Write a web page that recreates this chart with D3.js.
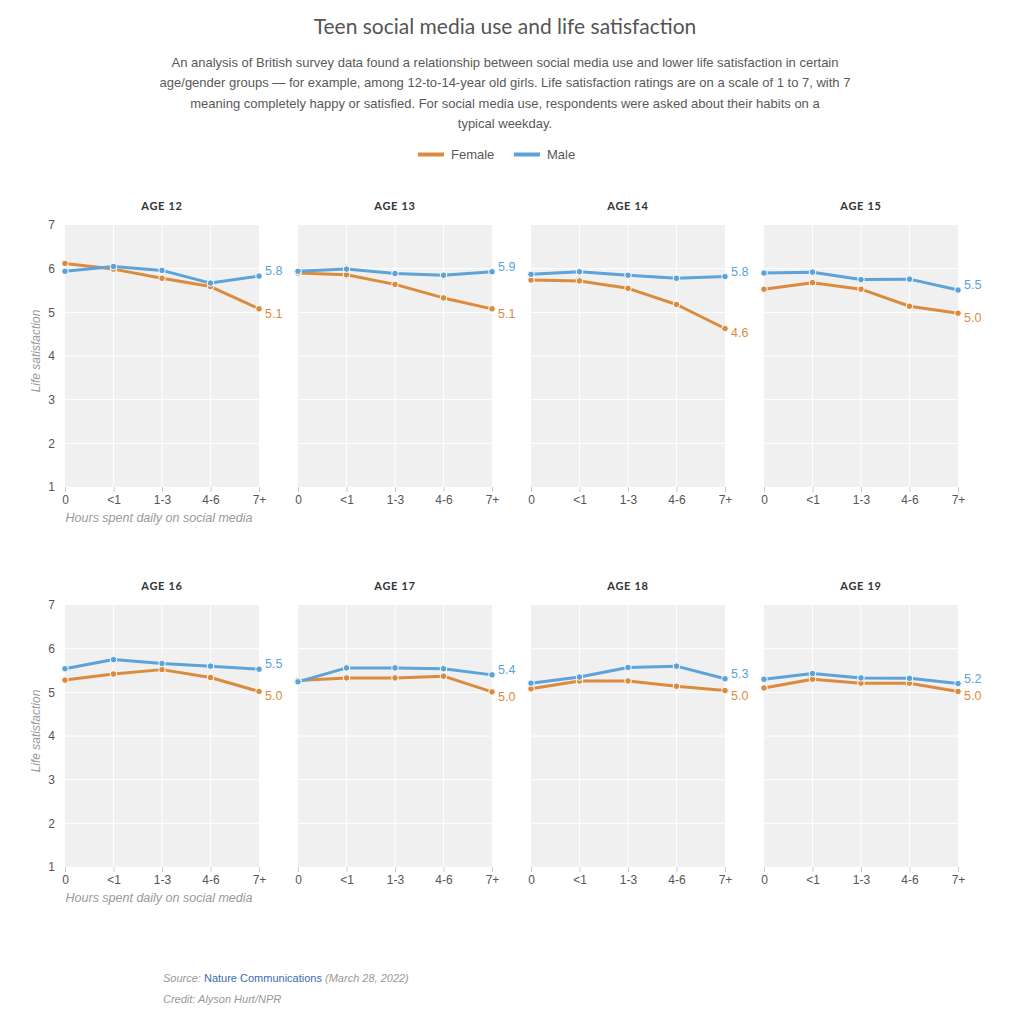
<!DOCTYPE html>
<html>
<head>
<meta charset="utf-8">
<script src="https://cdn.jsdelivr.net/npm/d3@7"></script>
<style>
  html, body { margin: 0; padding: 0; background: #fff; }
  svg { display: block; }
</style>
</head>
<body>
<svg id="chart" width="1011" height="1024"></svg>
<script>
// ---------- DATA ----------
const categories = ["0", "<1", "1-3", "4-6", "7+"];
const ages = ["AGE 12", "AGE 13", "AGE 14", "AGE 15", "AGE 16", "AGE 17", "AGE 18", "AGE 19"];
const femaleValues = [
  [6.12, 5.99, 5.78, 5.59, 5.08],
  [5.90, 5.86, 5.64, 5.33, 5.08],
  [5.74, 5.72, 5.55, 5.18, 4.63],
  [5.53, 5.68, 5.53, 5.14, 4.98],
  [5.28, 5.42, 5.52, 5.34, 5.02],
  [5.27, 5.33, 5.33, 5.37, 5.01],
  [5.08, 5.26, 5.26, 5.14, 5.04],
  [5.10, 5.30, 5.21, 5.21, 5.02]
];
const maleValues = [
  [5.94, 6.05, 5.96, 5.67, 5.83],
  [5.94, 5.99, 5.89, 5.85, 5.93],
  [5.87, 5.93, 5.85, 5.78, 5.82],
  [5.90, 5.92, 5.75, 5.76, 5.51],
  [5.54, 5.75, 5.66, 5.60, 5.53],
  [5.24, 5.56, 5.56, 5.54, 5.40],
  [5.21, 5.35, 5.57, 5.60, 5.31],
  [5.30, 5.43, 5.33, 5.32, 5.20]
];
const yTicks = [1, 2, 3, 4, 5, 6, 7];
const seriesNames = ["Female", "Male"];

// ---------- STYLE ----------
const colors = { Female: "#db8b3d", Male: "#5ba3d8" };
const sans = "'Liberation Sans', Arial, Helvetica, sans-serif";
const svg = d3.select("#chart");

// Title
svg.append("text")
  .attr("x", 505).attr("y", 34)
  .attr("text-anchor", "middle")
  .style("font-family", "Lato, 'Open Sans', sans-serif")
  .style("font-size", "21px").style("font-weight", 400)
  .attr("fill", "#555")
  .text("Teen social media use and life satisfaction");

const subtitle = [
  "An analysis of British survey data found a relationship between social media use and lower life satisfaction in certain",
  "age/gender groups \u2014 for example, among 12-to-14-year old girls. Life satisfaction ratings are on a scale of 1 to 7, with 7",
  "meaning completely happy or satisfied. For social media use, respondents were asked about their habits on a",
  "typical weekday."
];
svg.append("g").selectAll("text").data(subtitle).join("text")
  .attr("x", 505).attr("y", (d, i) => 67 + i * 20.3)
  .attr("text-anchor", "middle")
  .style("font-family", sans).style("font-size", "13px")
  .attr("fill", "#595959")
  .text(d => d);

// Legend
const legend = svg.append("g");
const legendX = { Female: 418, Male: 514 };
seriesNames.forEach(name => {
  legend.append("line")
    .attr("x1", legendX[name]).attr("x2", legendX[name] + 26)
    .attr("y1", 154.5).attr("y2", 154.5)
    .attr("stroke", colors[name]).attr("stroke-width", 4);
  legend.append("text")
    .attr("x", legendX[name] + 33).attr("y", 159)
    .style("font-family", sans).style("font-size", "13px")
    .attr("fill", "#595959").text(name);
});

// ---------- PANELS ----------
const panelW = 194, panelH = 262;
const colX = [65, 298, 531, 764];
const rowY = [225, 605];

const x = d3.scalePoint().domain(categories).range([0, panelW]);
const y = d3.scaleLinear().domain([1, 7]).range([panelH, 0]);

const line = d3.line()
  .x((d, i) => x(categories[i]))
  .y(d => y(d));

ages.forEach((age, k) => {
  const col = k % 4, row = Math.floor(k / 4);
  const g = svg.append("g").attr("transform", `translate(${colX[col]},${rowY[row]})`);

  g.append("rect").attr("width", panelW).attr("height", panelH).attr("fill", "#f0f0f0");

  // horizontal grid
  g.append("g").selectAll("line").data(yTicks.slice(1, -1)).join("line")
    .attr("x1", 0).attr("x2", panelW)
    .attr("y1", d => y(d)).attr("y2", d => y(d))
    .attr("stroke", "#fff").attr("stroke-width", 1);
  // vertical grid
  g.append("g").selectAll("line").data(categories.slice(1, -1)).join("line")
    .attr("x1", d => x(d)).attr("x2", d => x(d))
    .attr("y1", 0).attr("y2", panelH)
    .attr("stroke", "#fff").attr("stroke-width", 1);

  // title
  g.append("text")
    .attr("x", panelW / 2).attr("y", -15)
    .attr("text-anchor", "middle")
    .style("font-family", "Lato, 'Open Sans', sans-serif")
    .style("font-size", "11px").style("font-weight", 700)
    .style("letter-spacing", "0.7px")
    .attr("fill", "#333").text(age);

  // x axis
  const xa = g.append("g").attr("transform", `translate(0,${panelH})`)
    .call(d3.axisBottom(x).tickSize(5).tickPadding(3));
  xa.select(".domain").remove();
  xa.selectAll(".tick line").attr("stroke", "#ccc");
  xa.selectAll(".tick text").attr("fill", "#555")
    .style("font-family", sans).style("font-size", "12px");

  if (col === 0) {
    const ya = g.append("g")
      .call(d3.axisLeft(y).tickValues(yTicks).tickSize(0).tickPadding(10).tickFormat(d3.format("d")));
    ya.select(".domain").remove();
    ya.selectAll(".tick text").attr("fill", "#555")
      .style("font-family", sans).style("font-size", "12px");

    g.append("text")
      .attr("transform", `translate(-25,${panelH / 2 - 5}) rotate(-90)`)
      .attr("text-anchor", "middle")
      .style("font-family", sans).style("font-size", "12px").style("font-style", "italic")
      .attr("fill", "#999").text("Life satisfaction");

    g.append("text")
      .attr("x", panelW / 2 - 3).attr("y", panelH + 35)
      .attr("text-anchor", "middle")
      .style("font-family", sans).style("font-size", "12.5px").style("font-style", "italic")
      .attr("fill", "#999").text("Hours spent daily on social media");
  }

  const series = [
    { name: "Female", values: femaleValues[k], dy: 9 },
    { name: "Male", values: maleValues[k], dy: -1 }
  ];
  series.forEach(s => {
    g.append("path").datum(s.values)
      .attr("d", line)
      .attr("fill", "none")
      .attr("stroke", colors[s.name])
      .attr("stroke-width", 3)
      .attr("stroke-linejoin", "round");
  });
  series.forEach(s => {
    g.append("g").selectAll("circle").data(s.values).join("circle")
      .attr("cx", (d, i) => x(categories[i]))
      .attr("cy", d => y(d))
      .attr("r", 3.3)
      .attr("fill", colors[s.name])
      .attr("stroke", "#fff").attr("stroke-width", 1);
    const last = s.values[s.values.length - 1];
    g.append("text")
      .attr("x", panelW + 6).attr("y", y(last) + s.dy)
      .style("font-family", sans).style("font-size", "12.5px")
      .attr("fill", colors[s.name])
      .text(last.toFixed(1));
  });
});

// ---------- FOOTER ----------
const src = svg.append("text").attr("x", 163).attr("y", 982)
  .style("font-family", sans).style("font-size", "11px");
src.append("tspan").attr("fill", "#999").style("font-style", "italic").text("Source: ");
src.append("tspan").attr("fill", "#3b6cb4").text("Nature Communications");
src.append("tspan").attr("fill", "#999").style("font-style", "italic").text(" (March 28, 2022)");

svg.append("text").attr("x", 163).attr("y", 1003)
  .style("font-family", sans).style("font-size", "11px").style("font-style", "italic")
  .attr("fill", "#999").text("Credit: Alyson Hurt/NPR");
</script>
</body>
</html>
